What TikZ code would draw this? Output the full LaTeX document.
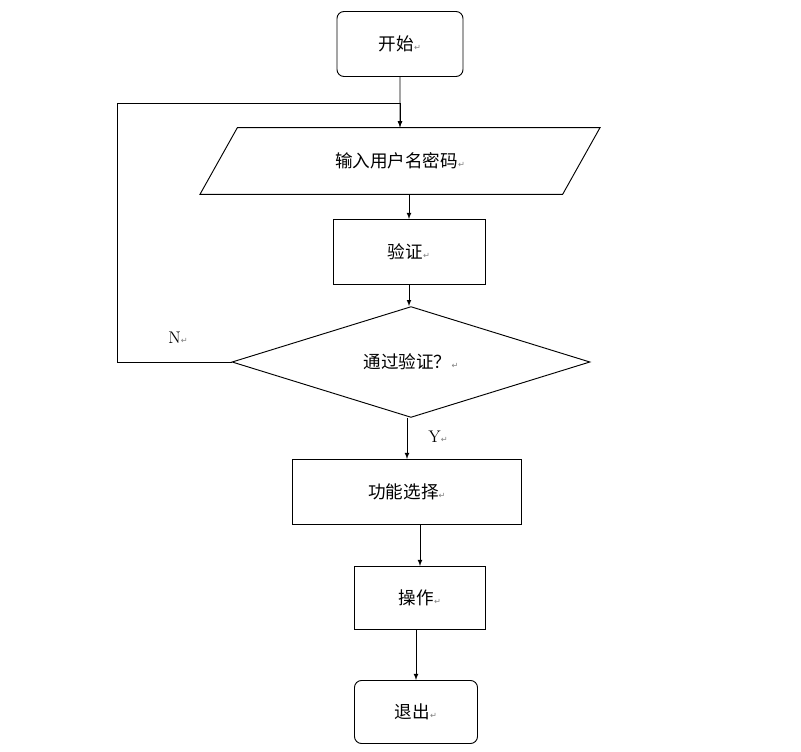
\documentclass[tikz,border=0pt]{standalone}
\usepackage{fontspec}
\newfontfamily\cjk{Noto Sans CJK SC}
\newfontfamily\retfont{DejaVu Sans}
\usetikzlibrary{shapes,arrows,positioning}
\newcommand{\ret}{{\retfont\color{gray}\scriptsize ↵}}
\tikzset{
  box/.style={draw,thick,minimum height=1.95cm,font=\cjk\fontsize{15}{18}\selectfont},
  rbox/.style={box,rounded corners=6pt},
  io/.style={box,trapezium,trapezium left angle=33,trapezium right angle=147,
    trapezium stretches body,minimum width=12cm,minimum height=2cm},
  test/.style={box,diamond,minimum width=10.74cm,minimum height=3.21cm,inner sep=0pt},
  line/.style={thick,-latex}
}
\begin{document}
\begin{tikzpicture}[x=0.03cm,y=-0.03cm]
\useasboundingbox (0,0) rectangle (801,752);

% --- Blocchi ---
\node[rbox,minimum width=3.78cm] (start) at (400,44) {开始\ret};
\node[io] (input) at (400,161) {输入用户名密码\ret};
\node[box,minimum width=4.56cm] (check) at (409,252) {验证\ret};
\node[test] (pass) at (411,362) {通过验证？\ret};
\node[box,minimum width=6.87cm] (menu) at (407,492) {功能选择\ret};
\node[box,minimum width=3.93cm,minimum height=1.89cm] (oper) at (420,598) {操作\ret};
\node[rbox,minimum width=3.69cm,minimum height=1.89cm] (quit) at (416,712) {退出\ret};

\coordinate (loopA) at (117,362);
\coordinate (loopB) at (117,103);
\coordinate (loopC) at (400,103);

% --- Frecce ---
\draw[line] (start) -- (input);
\draw[line] (input.south -| check) -- (check);
\draw[line] (check) -- (check |- pass.north);
\draw[line] (pass.south -| menu) -- (menu);
\draw[line] (menu.south -| oper) -- (oper);
\draw[line] (oper.south -| quit) -- (quit);
\draw[thick] (pass.west) -- (loopA) -- (loopB) -- (loopC);
\draw[line] (loopC) -- (input.north -| loopC);

% --- Etichette ---
\node (nlab) at (178,338) {\Large N\ret};
\node (ylab) at (438,437) {\Large Y\ret};

\end{tikzpicture}
\end{document}
